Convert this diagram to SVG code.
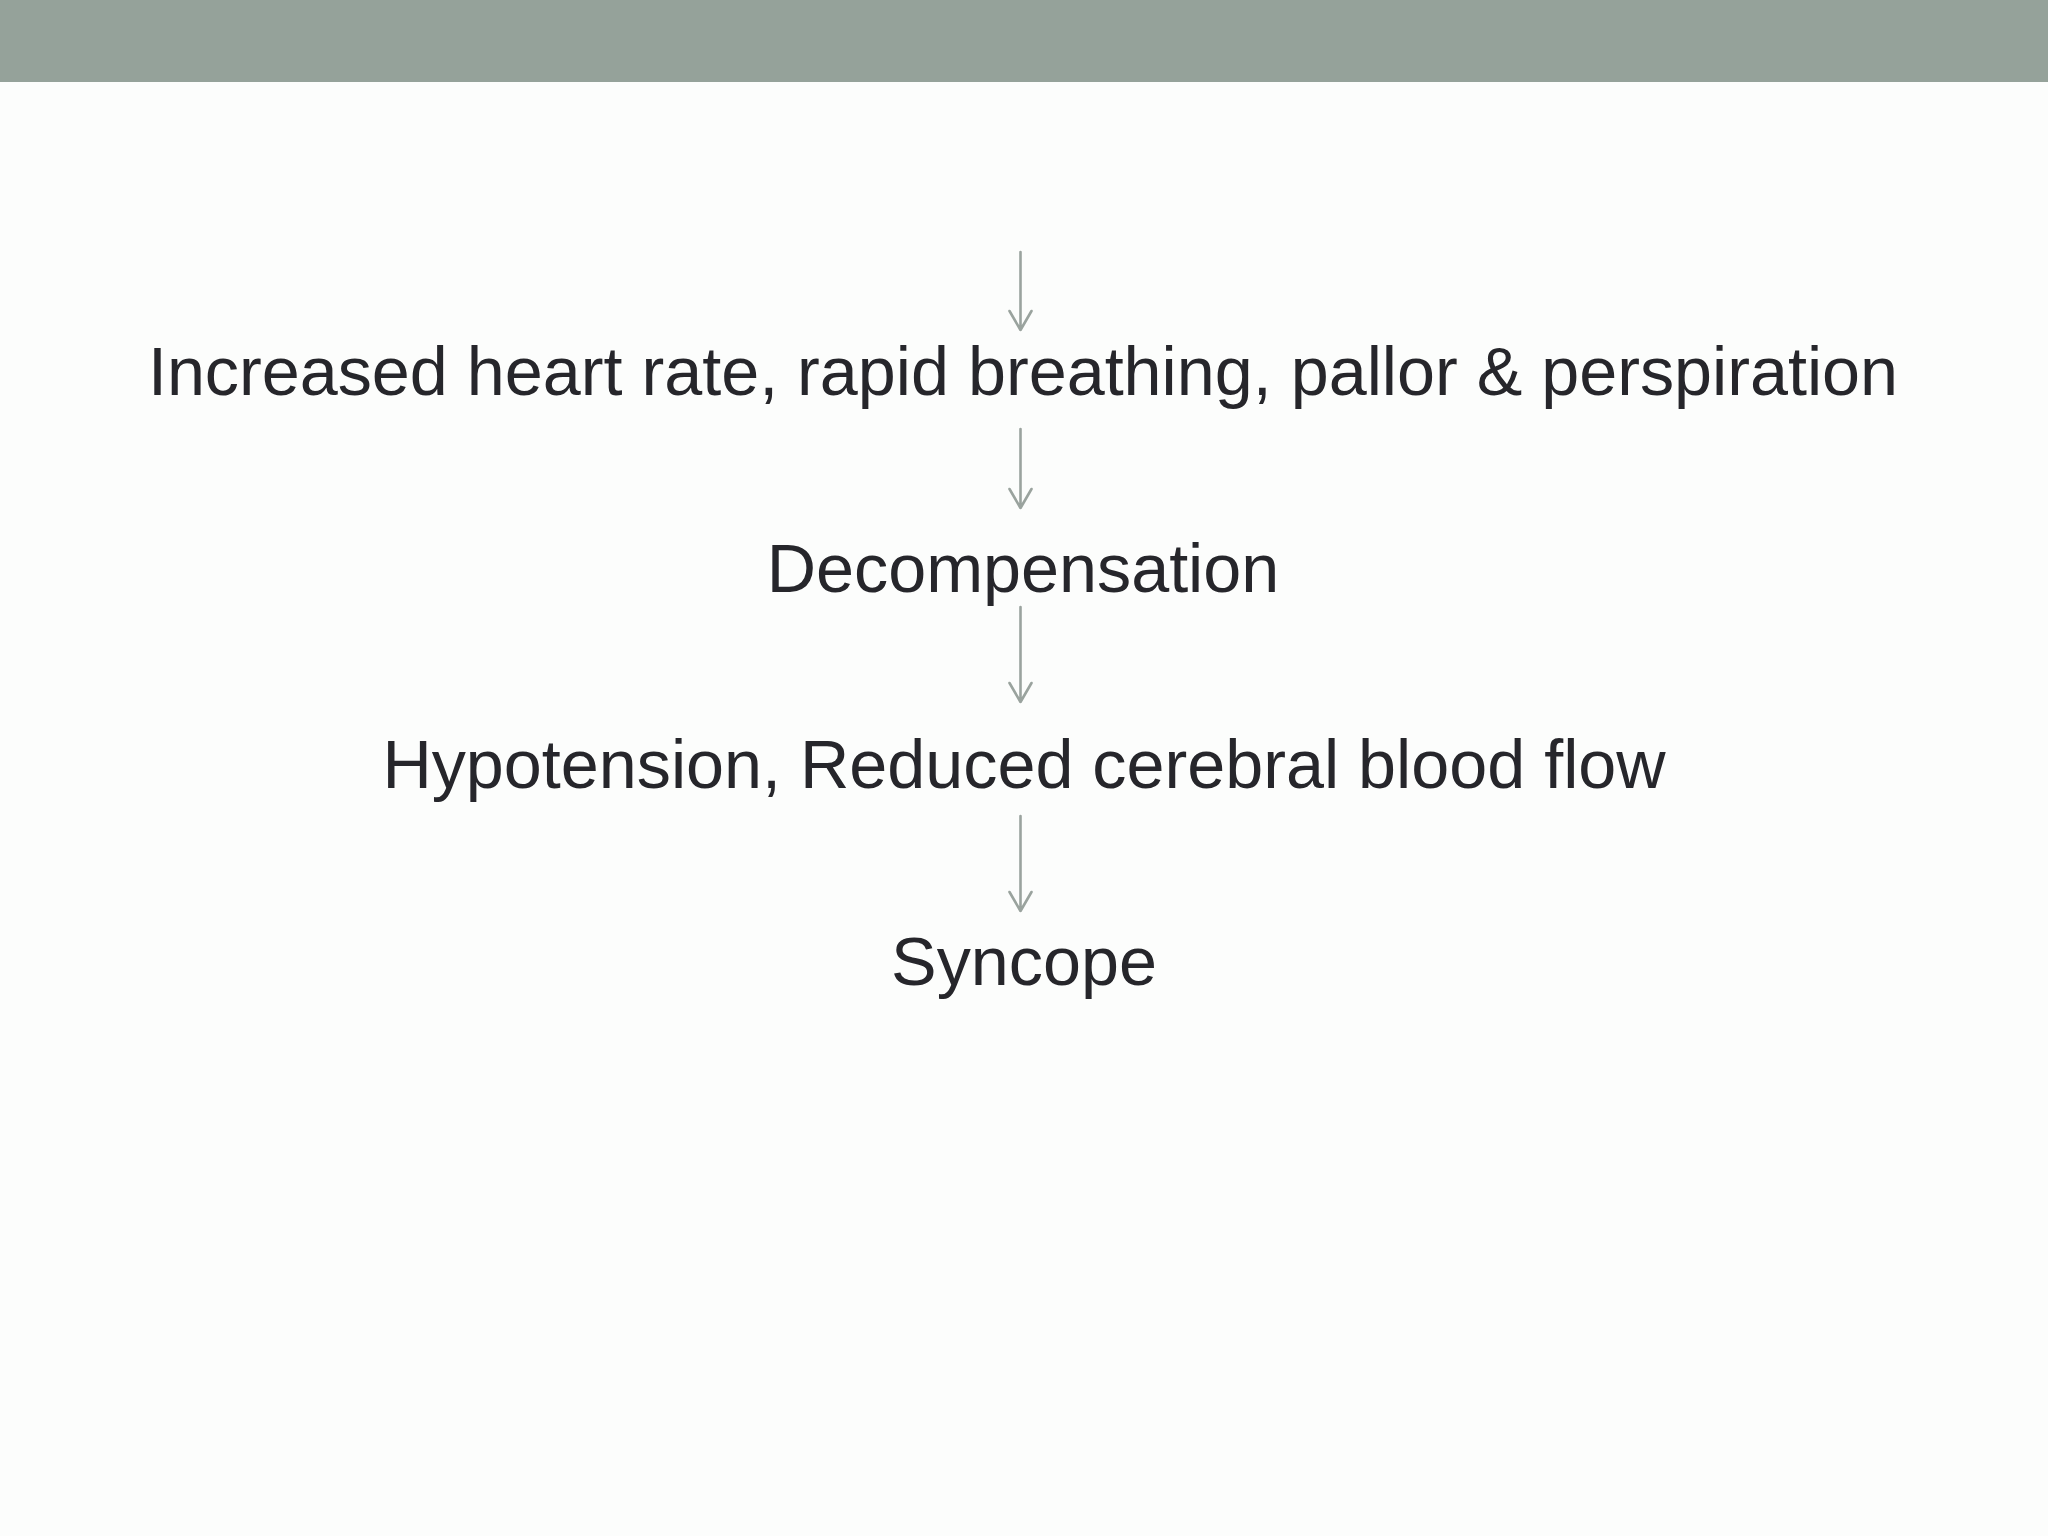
<svg xmlns="http://www.w3.org/2000/svg" width="2048" height="1536" viewBox="0 0 2048 1536">
<style>
.t{font-family:"Liberation Sans",Arial,sans-serif;font-size:68.3px;fill:#26262b;text-anchor:middle}
.c{stroke:#9aa39e;stroke-width:2.6;fill:none;stroke-linecap:round;stroke-linejoin:round}
</style>
<rect x="0" y="0" width="2048" height="1536" fill="#fcfdfc"/>
<rect id="header" x="0" y="0" width="2048" height="82" fill="#95a29a"/>
<g id="connectors">
<path class="c" d="M1020.5 252 V330 M1009.5 311 L1020.5 330 L1031.5 311"/>
<path class="c" d="M1020.5 429 V508 M1009.5 489 L1020.5 508 L1031.5 489"/>
<path class="c" d="M1020.5 607 V702 M1009.5 683 L1020.5 702 L1031.5 683"/>
<path class="c" d="M1020.5 816 V911 M1009.5 892 L1020.5 911 L1031.5 892"/>
</g>
<g id="node1"><text class="t" x="1023" y="395">Increased heart rate, rapid breathing, pallor &amp; perspiration</text></g>
<g id="node2"><text class="t" x="1023" y="592">Decompensation</text></g>
<g id="node3"><text class="t" x="1024" y="788">Hypotension, Reduced cerebral blood flow</text></g>
<g id="node4"><text class="t" x="1024" y="985">Syncope</text></g>
</svg>
